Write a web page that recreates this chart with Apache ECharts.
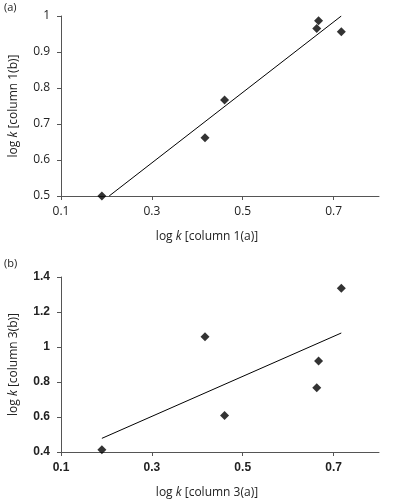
<!DOCTYPE html>
<html><head><meta charset="utf-8">
<script src="https://cdn.jsdelivr.net/npm/echarts@6/dist/echarts.min.js"></script>
<style>html,body{margin:0;padding:0;background:#fff}#c{width:400px;height:500px}</style>
</head><body><div id="c"></div>
<script>
// Panel (a)
const xA = [0.19, 0.417, 0.46, 0.663, 0.667, 0.717];
const yA = [0.5, 0.662, 0.767, 0.965, 0.987, 0.956];
const trendA_x = [0.206, 0.717];
const trendA_y = [0.5, 1.0];
// Panel (b)
const xB = [0.19, 0.417, 0.46, 0.663, 0.667, 0.717];
const yB = [0.413, 1.058, 0.609, 0.767, 0.92, 1.336];
const trendB_x = [0.19, 0.717];
const trendB_y = [0.478, 1.08];

const pairs = (xs, ys) => xs.map((x, i) => [x, ys[i]]);
const axisCol = '#555';
const fam = '"Open Sans", "DejaVu Sans", sans-serif';
const rich = { n: { fontFamily: fam, fontSize: 12, color: '#222' }, i: { fontFamily: fam, fontSize: 12, fontStyle: 'italic', color: '#222' } };

function xAxis(idx, name, bold) {
  return {
    type: 'value', gridIndex: idx, min: 0.1, max: 0.8, interval: 0.2,
    name: name, nameLocation: 'middle', nameGap: 35,
    nameTextStyle: { rich: rich, padding: [0, 26, 0, 0] },
    axisLine: { lineStyle: { color: axisCol, width: 1 } },
    axisTick: { show: true, length: 4, lineStyle: { color: axisCol } },
    axisLabel: { showMaxLabel: false, fontFamily: bold ? '"Liberation Sans", Arial, sans-serif' : fam, fontWeight: bold ? 'bold' : 'normal', fontSize: 12, color: '#222', margin: 10 },
    splitLine: { show: false }
  };
}
function yAxis(idx, name, min, max, interval, bold) {
  return {
    type: 'value', gridIndex: idx, min: min, max: max, interval: interval,
    name: name, nameLocation: 'middle', nameGap: 41, nameRotate: 90,
    nameTextStyle: { rich: rich },
    axisLine: { show: true, lineStyle: { color: axisCol, width: 1 } },
    axisTick: { show: true, length: 4, lineStyle: { color: axisCol } },
    axisLabel: { fontFamily: bold ? '"Liberation Sans", Arial, sans-serif' : fam, fontWeight: bold ? 'bold' : 'normal', fontSize: 12, color: '#222', margin: 11 },
    splitLine: { show: false }
  };
}

const chart = echarts.init(document.getElementById('c'));
chart.setOption({
  animation: false,
  backgroundColor: '#fff',
  graphic: [
    { type: 'text', left: 4, top: 2, style: { text: '(a)', font: '11px ' + fam, fill: '#222' } },
    { type: 'text', left: 4, top: 258, style: { text: '(b)', font: '11px ' + fam, fill: '#222' } }
  ],
  grid: [
    { left: 58, right: 21, top: 16, height: 180 },
    { left: 58, right: 21, top: 277, height: 180 }
  ],
  xAxis: [
    xAxis(0, '{n|log }{i|k}{n| [column 1(a)]}', false),
    xAxis(1, '{n|log }{i|k}{n| [column 3(a)]}', true)
  ],
  yAxis: [
    yAxis(0, '{n|log }{i|k}{n| [column 1(b)]}', 0.5, 1, 0.1, false),
    yAxis(1, '{n|log }{i|k}{n| [column 3(b)]}', 0.4, 1.4, 0.2, true)
  ],
  series: [
    { type: 'scatter', xAxisIndex: 0, yAxisIndex: 0, data: pairs(xA, yA), symbol: 'diamond', symbolSize: 9, itemStyle: { color: '#000' }, z: 3 },
    { type: 'line', xAxisIndex: 0, yAxisIndex: 0, data: pairs(trendA_x, trendA_y), symbol: 'none', lineStyle: { color: '#000', width: 1 } },
    { type: 'scatter', xAxisIndex: 1, yAxisIndex: 1, data: pairs(xB, yB), symbol: 'diamond', symbolSize: 9, itemStyle: { color: '#000' }, z: 3 },
    { type: 'line', xAxisIndex: 1, yAxisIndex: 1, data: pairs(trendB_x, trendB_y), symbol: 'none', lineStyle: { color: '#000', width: 1 } }
  ]
});
</script></body></html>
